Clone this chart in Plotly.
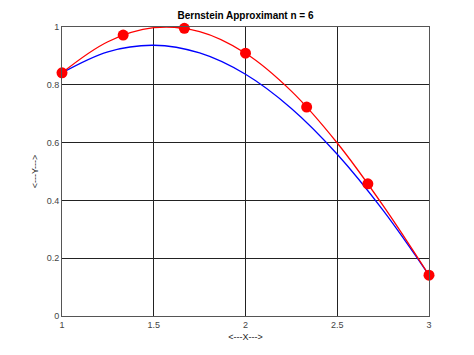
import plotly.graph_objects as go

# Curve samples
x_curve = [1.0, 1.25, 1.5, 1.75, 2.0, 2.25, 2.5, 2.75, 3.0]
y_red = [0.8415, 0.9490, 0.9975, 0.9840, 0.9093, 0.7781, 0.5985, 0.3817, 0.1411]
y_blue = [0.8415, 0.9142, 0.9368, 0.9101, 0.8363, 0.7181, 0.5596, 0.3653, 0.1411]

# Node points (red dots)
x_nodes = [1.0, 1.3333, 1.6667, 2.0, 2.3333, 2.6667, 3.0]
y_nodes = [0.8415, 0.9719, 0.9954, 0.9093, 0.7231, 0.4573, 0.1411]

x_ticks = [1, 1.5, 2, 2.5, 3]
y_ticks = [0, 0.2, 0.4, 0.6, 0.8, 1]

fig = go.Figure()
fig.add_trace(go.Scatter(x=x_curve, y=y_blue, mode="lines",
                         line=dict(color="#0000ff", width=1.3, shape="spline"),
                         showlegend=False))
fig.add_trace(go.Scatter(x=x_curve, y=y_red, mode="lines",
                         line=dict(color="#ff0000", width=1.3, shape="spline"),
                         showlegend=False))
fig.add_trace(go.Scatter(x=x_nodes, y=y_nodes, mode="markers",
                         marker=dict(color="#ff0000", size=11),
                         cliponaxis=False, showlegend=False))

axis_common = dict(showgrid=True, gridcolor="#222222", gridwidth=1,
                   showline=True, linecolor="#555555", linewidth=1, mirror=True,
                   zeroline=False, ticks="",
                   tickfont=dict(size=9, color="#444444", family="Liberation Sans"))

fig.update_layout(
    width=474, height=355,
    margin=dict(l=62, r=45, t=27, b=39),
    paper_bgcolor="white", plot_bgcolor="white",
    font=dict(family="Liberation Sans", size=9, color="#222222"),
    title=dict(text="<b>Bernstein Approximant n = 6</b>", x=0.518, xanchor="center",
               y=0.957, yanchor="middle", font=dict(size=10, color="black")),
    xaxis=dict(range=[1, 3], tickvals=x_ticks,
               title=dict(text="<---X--->", standoff=4, font=dict(size=9)),
               **axis_common),
    yaxis=dict(range=[0, 1], tickvals=y_ticks,
               title=dict(text="<---Y--->", standoff=6, font=dict(size=9)),
               **axis_common),
)

fig.write_html("out.html")
